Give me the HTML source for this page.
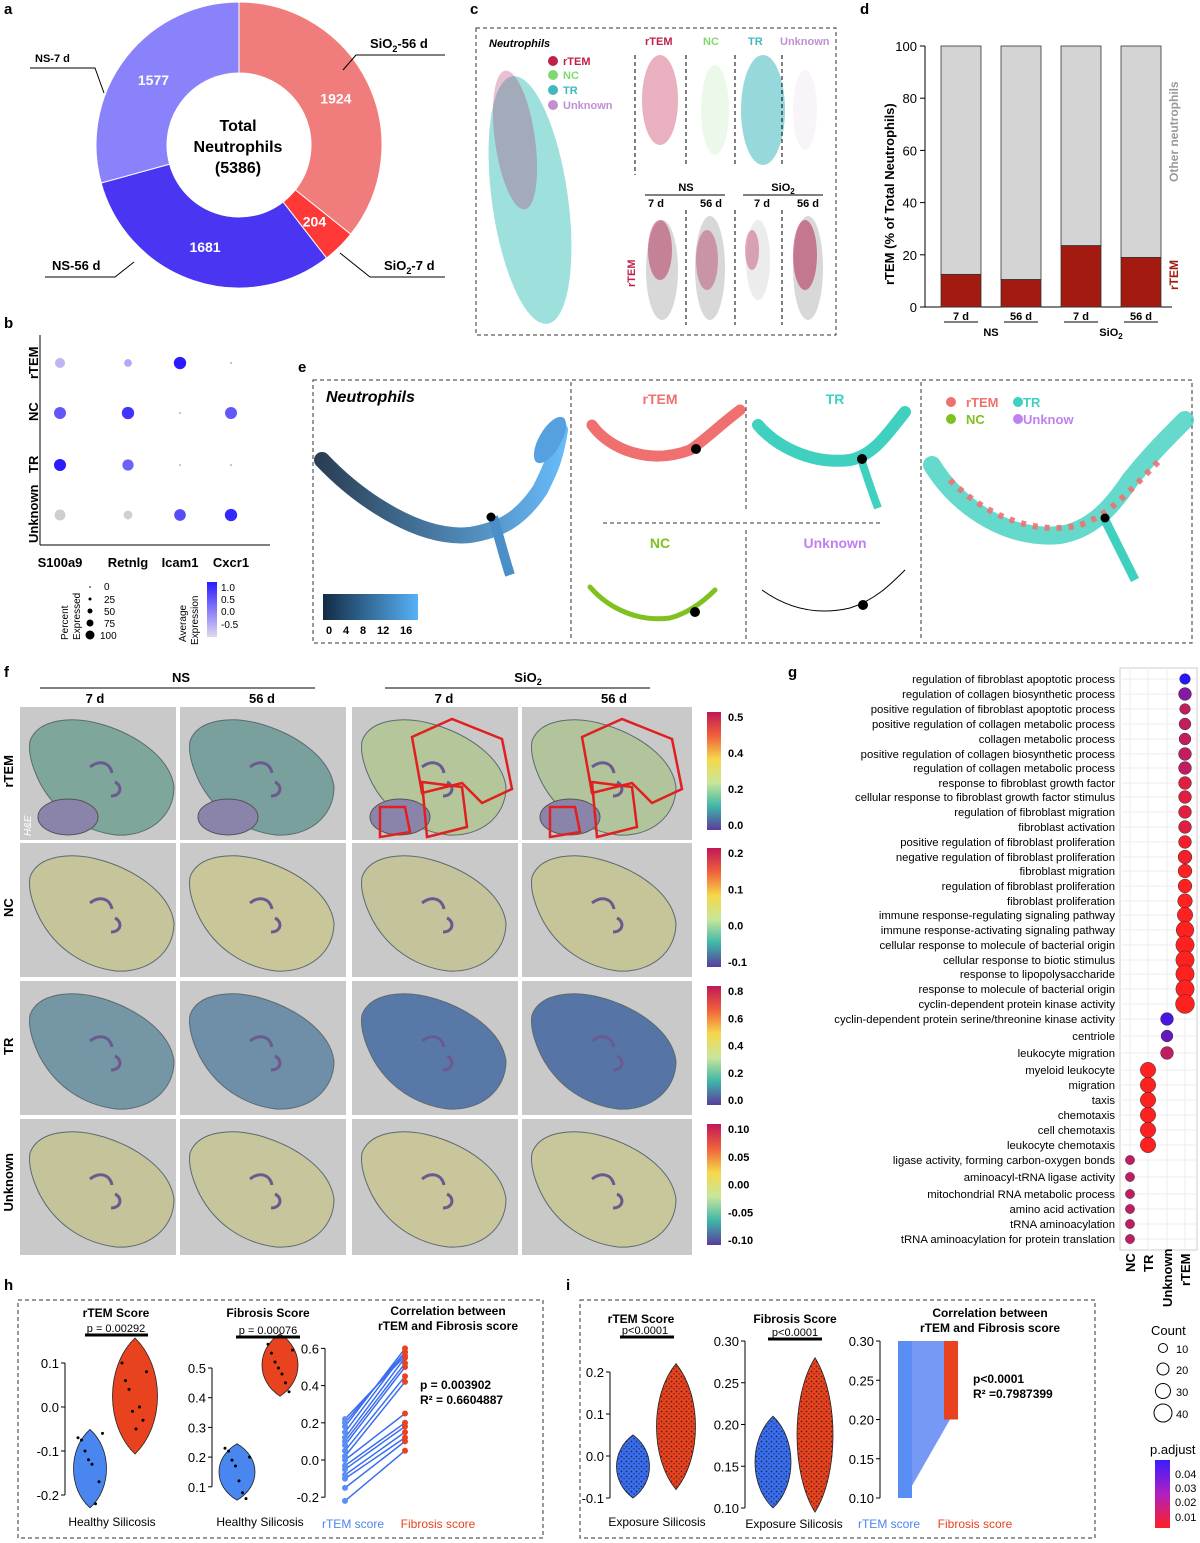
<!DOCTYPE html>
<html><head><meta charset="utf-8"><style>
html,body{margin:0;padding:0;background:#fff;overflow:hidden}
svg{display:block;font-family:"Liberation Sans",Arial,sans-serif}
.b{font-weight:bold}
</style></head><body>
<svg id="fig" width="1200" height="1543" viewBox="0 0 1200 1543" xmlns="http://www.w3.org/2000/svg">
<defs>
<linearGradient id="cbar" x1="0" y1="0" x2="0" y2="1">
<stop offset="0" stop-color="#c0185a"/><stop offset="0.2" stop-color="#f0603a"/><stop offset="0.4" stop-color="#f5d84a"/><stop offset="0.6" stop-color="#c8e69a"/><stop offset="0.8" stop-color="#3eb6a8"/><stop offset="1" stop-color="#5a3c9c"/></linearGradient>
<linearGradient id="tbar" x1="0" x2="1"><stop offset="0" stop-color="#132b43"/><stop offset="1" stop-color="#56b1f7"/></linearGradient>
<linearGradient id="pbar" x1="0" y1="0" x2="0" y2="1"><stop offset="0" stop-color="#3a1cff"/><stop offset="0.5" stop-color="#b020c0"/><stop offset="1" stop-color="#ff2020"/></linearGradient>
<linearGradient id="avg" x1="0" y1="0" x2="0" y2="1"><stop offset="0" stop-color="#2a1cff"/><stop offset="1" stop-color="#e0d8f0"/></linearGradient>
<pattern id="dots" width="5" height="5" patternUnits="userSpaceOnUse"><circle cx="1.5" cy="1.5" r="0.9" fill="#111"/><circle cx="4" cy="3.8" r="0.7" fill="#111"/></pattern>
<path id="lung" d="M6,32 C14,10 48,6 80,16 C112,26 146,48 150,78 C150,108 124,128 92,126 C60,122 32,104 16,74 C8,58 4,44 6,32 Z"/>
</defs>

<g class="b" font-size="15">
<text x="4" y="14">a</text><text x="4" y="328">b</text><text x="470" y="14">c</text><text x="860" y="14">d</text>
<text x="298" y="372">e</text><text x="4" y="677">f</text><text x="788" y="677">g</text><text x="4" y="1290">h</text><text x="566" y="1290">i</text>
</g>

<g id="donut"></g>
<g font-size="13" class="b">
<text x="238" y="131" text-anchor="middle" font-size="16">Total</text>
<text x="238" y="152" text-anchor="middle" font-size="16">Neutrophils</text>
<text x="238" y="173" text-anchor="middle" font-size="16">(5386)</text>
<text x="370" y="48">SiO<tspan font-size="9" dy="4">2</tspan><tspan dy="-4">-56 d</tspan></text>
<text x="384" y="270">SiO<tspan font-size="9" dy="4">2</tspan><tspan dy="-4">-7 d</tspan></text>
<text x="35" y="62" font-size="11">NS-7 d</text>
<text x="52" y="270">NS-56 d</text>
</g>
<g stroke="#000" fill="none">
<polyline points="356,55 445,55"/><polyline points="356,55 343,70"/>
<polyline points="30,68 95,68 104,93"/><polyline points="340,253 370,277 445,277"/><polyline points="45,277 115,277 134,262"/>
</g>

<g id="dotb">
<line x1="40" y1="335" x2="40" y2="545" stroke="#000"/><line x1="40" y1="545" x2="270" y2="545" stroke="#000"/>
</g>
<g font-size="8">
<text transform="translate(68,640) rotate(-90)" font-size="10">Percent</text><text transform="translate(80,640) rotate(-90)" font-size="10">Expressed</text>
<circle cx="90" cy="587" r="0.8"/><text x="104" y="590" font-size="10">0</text>
<circle cx="90" cy="599" r="1.5"/><text x="104" y="603" font-size="10">25</text>
<circle cx="90" cy="611" r="2.5"/><text x="104" y="615" font-size="10">50</text>
<circle cx="90" cy="623" r="3.5"/><text x="104" y="627" font-size="10">75</text>
<circle cx="90" cy="635" r="4.5"/><text x="100" y="639" font-size="10">100</text>
<text transform="translate(186,642) rotate(-90)" font-size="10">Average</text><text transform="translate(198,645) rotate(-90)" font-size="10">Expression</text>
<rect x="207" y="582" width="10" height="55" fill="url(#avg)"/>
<text x="221" y="591" font-size="10">1.0</text><text x="221" y="603" font-size="10">0.5</text><text x="221" y="615" font-size="10">0.0</text><text x="221" y="628" font-size="10">-0.5</text>
</g>

<g>
<rect x="476" y="28" width="360" height="307" fill="none" stroke="#333" stroke-dasharray="4,3"/>
<text x="489" y="47" font-size="11" class="b" font-style="italic">Neutrophils</text>
<ellipse cx="530" cy="200" rx="38" ry="125" fill="#4fc6c0" opacity="0.55" transform="rotate(-8 530 200)"/>
<ellipse cx="515" cy="140" rx="20" ry="70" fill="#b0306a" opacity="0.3" transform="rotate(-8 515 140)"/>
<circle cx="553" cy="61" r="5" fill="#c0204a"/><text x="563" y="65" font-size="11" fill="#c0204a" class="b">rTEM</text>
<circle cx="553" cy="75" r="5" fill="#80d870"/><text x="563" y="79" font-size="11" fill="#80d870" class="b">NC</text>
<circle cx="553" cy="90" r="5" fill="#40b8c0"/><text x="563" y="94" font-size="11" fill="#40b8c0" class="b">TR</text>
<circle cx="553" cy="105" r="5" fill="#c090d0"/><text x="563" y="109" font-size="11" fill="#c090d0" class="b">Unknown</text>
<text x="645" y="45" font-size="11" fill="#c0204a" class="b">rTEM</text><text x="703" y="45" font-size="11" fill="#80d870" class="b">NC</text>
<text x="748" y="45" font-size="11" fill="#40b8c0" class="b">TR</text><text x="780" y="45" font-size="11" fill="#c090d0" class="b">Unknown</text>
<ellipse cx="660" cy="100" rx="18" ry="45" fill="#c0204a" opacity="0.35"/>
<ellipse cx="715" cy="110" rx="14" ry="45" fill="#80d870" opacity="0.15"/>
<ellipse cx="763" cy="110" rx="22" ry="55" fill="#40b8c0" opacity="0.55"/>
<ellipse cx="805" cy="110" rx="12" ry="40" fill="#c090d0" opacity="0.1"/>
<g stroke="#000" stroke-dasharray="4,3"><line x1="635" y1="55" x2="635" y2="175"/><line x1="686" y1="55" x2="686" y2="165"/><line x1="735" y1="55" x2="735" y2="165"/><line x1="782" y1="55" x2="782" y2="165"/>
<line x1="686" y1="210" x2="686" y2="325"/><line x1="735" y1="210" x2="735" y2="325"/><line x1="782" y1="210" x2="782" y2="325"/></g>
<line x1="645" y1="195" x2="725" y2="195" stroke="#000"/><line x1="743" y1="195" x2="823" y2="195" stroke="#000"/>
<text x="686" y="191" font-size="11" class="b" text-anchor="middle">NS</text><text x="783" y="191" font-size="11" class="b" text-anchor="middle">SiO<tspan font-size="8" dy="3">2</tspan></text>
<text x="656" y="207" font-size="11" class="b" text-anchor="middle">7 d</text><text x="711" y="207" font-size="11" class="b" text-anchor="middle">56 d</text>
<text x="762" y="207" font-size="11" class="b" text-anchor="middle">7 d</text><text x="808" y="207" font-size="11" class="b" text-anchor="middle">56 d</text>
<text transform="translate(635,287) rotate(-90)" font-size="11" fill="#c0204a" class="b">rTEM</text>
<ellipse cx="662" cy="270" rx="16" ry="50" fill="#c8c8c8" opacity="0.7"/><ellipse cx="660" cy="250" rx="12" ry="30" fill="#b01848" opacity="0.45"/>
<ellipse cx="710" cy="268" rx="15" ry="52" fill="#c8c8c8" opacity="0.7"/><ellipse cx="707" cy="260" rx="11" ry="30" fill="#b01848" opacity="0.35"/>
<ellipse cx="758" cy="260" rx="12" ry="40" fill="#c8c8c8" opacity="0.35"/><ellipse cx="752" cy="250" rx="7" ry="20" fill="#b01848" opacity="0.35"/>
<ellipse cx="808" cy="268" rx="15" ry="52" fill="#c8c8c8" opacity="0.7"/><ellipse cx="805" cy="255" rx="12" ry="35" fill="#b01848" opacity="0.5"/>
</g>

<g id="barsd"></g>

<g>
<rect x="313" y="380" width="879" height="263" fill="none" stroke="#333" stroke-dasharray="4,3"/>
<g stroke="#333" stroke-dasharray="4,3"><line x1="571" y1="382" x2="571" y2="641"/><line x1="921" y1="382" x2="921" y2="641"/><line x1="746" y1="400" x2="746" y2="510"/><line x1="746" y1="530" x2="746" y2="641"/><line x1="603" y1="523" x2="882" y2="523"/></g>
<text x="326" y="402" font-size="16" class="b" font-style="italic">Neutrophils</text>
<path d="M322,460 C360,500 420,540 470,535 C500,530 520,520 540,490 C550,470 555,460 560,430" stroke="url(#tbar)" stroke-width="16" fill="none" stroke-linecap="round" opacity="0.9"/>
<path d="M493,517 C500,540 505,560 510,575" stroke="#4a8fc8" stroke-width="10" fill="none"/>
<ellipse cx="550" cy="440" rx="11" ry="26" fill="#56a0e0" transform="rotate(30 550 440)"/>
<circle cx="491" cy="517" r="4.5" fill="#000"/>
<rect x="323" y="594" width="95" height="26" fill="url(#tbar)"/>
<text x="326" y="634" font-size="11" class="b">0</text><text x="343" y="634" font-size="11" class="b">4</text><text x="360" y="634" font-size="11" class="b">8</text><text x="377" y="634" font-size="11" class="b">12</text><text x="400" y="634" font-size="11" class="b">16</text>
<text x="660" y="404" font-size="14" class="b" fill="#f07070" text-anchor="middle">rTEM</text>
<path d="M592,425 C610,450 650,465 690,450 C705,440 720,425 740,410" stroke="#f07070" stroke-width="11" fill="none" stroke-linecap="round"/>
<circle cx="696" cy="449" r="5" fill="#000"/>
<text x="835" y="404" font-size="14" class="b" fill="#40d0c0" text-anchor="middle">TR</text>
<path d="M758,425 C775,445 810,465 850,460 C875,455 890,430 905,412" stroke="#40d0c0" stroke-width="12" fill="none" stroke-linecap="round"/>
<path d="M862,462 C868,480 873,495 878,508" stroke="#40d0c0" stroke-width="8" fill="none"/>
<circle cx="862" cy="459" r="5" fill="#000"/>
<text x="660" y="548" font-size="14" class="b" fill="#80c020" text-anchor="middle">NC</text>
<path d="M590,587 C610,610 640,622 670,618 C685,614 700,605 715,590" stroke="#80c020" stroke-width="5" fill="none" stroke-linecap="round"/>
<circle cx="695" cy="612" r="5" fill="#000"/>
<text x="835" y="548" font-size="14" class="b" fill="#c080f0" text-anchor="middle">Unknown</text>
<path d="M762,590 C790,610 820,615 850,608 C875,600 890,585 905,570" stroke="#000" stroke-width="1" fill="none"/>
<circle cx="863" cy="605" r="5" fill="#000"/>
<path d="M932,465 C960,510 1010,540 1060,535 C1090,530 1110,510 1130,480 C1150,455 1165,440 1185,420" stroke="#40d0c0" stroke-width="18" fill="none" stroke-linecap="round" opacity="0.8"/>
<path d="M1105,520 C1115,540 1125,560 1135,580" stroke="#40d0c0" stroke-width="9" fill="none"/>
<path d="M950,480 C990,520 1040,535 1080,525 C1110,515 1130,490 1160,460" stroke="#f07070" stroke-width="6" fill="none" stroke-dasharray="5,7" opacity="0.9"/>
<circle cx="1105" cy="518" r="4.5" fill="#000"/>
<circle cx="951" cy="402" r="5" fill="#f07070"/><text x="966" y="407" font-size="13" class="b" fill="#f07070">rTEM</text>
<circle cx="1018" cy="402" r="5" fill="#40d0c0"/><text x="1023" y="407" font-size="13" class="b" fill="#40d0c0">TR</text>
<circle cx="951" cy="419" r="5" fill="#80c020"/><text x="966" y="424" font-size="13" class="b" fill="#80c020">NC</text>
<circle cx="1018" cy="419" r="5" fill="#c080f0"/><text x="1023" y="424" font-size="13" class="b" fill="#c080f0">Unknow</text>
</g>

<g id="panelf">
<text x="181" y="682" font-size="13" class="b" text-anchor="middle">NS</text>
<text x="528" y="682" font-size="13" class="b" text-anchor="middle">SiO<tspan font-size="9" dy="3">2</tspan></text>
<line x1="40" y1="688" x2="315" y2="688" stroke="#000"/><line x1="385" y1="688" x2="650" y2="688" stroke="#000"/>
<text x="95" y="703" font-size="13" class="b" text-anchor="middle">7 d</text><text x="262" y="703" font-size="13" class="b" text-anchor="middle">56 d</text>
<text x="444" y="703" font-size="13" class="b" text-anchor="middle">7 d</text><text x="614" y="703" font-size="13" class="b" text-anchor="middle">56 d</text>
</g>

<g id="panelg">
<rect x="1120" y="668" width="77" height="582" fill="#fff" stroke="#ccc"/>
</g>
<g font-size="13">
<text x="1151" y="1335">Count</text>
<circle cx="1163" cy="1348" r="4.5" fill="none" stroke="#000"/><text x="1176" y="1353" font-size="11">10</text>
<circle cx="1163" cy="1369" r="6" fill="none" stroke="#000"/><text x="1176" y="1374" font-size="11">20</text>
<circle cx="1163" cy="1391" r="7.5" fill="none" stroke="#000"/><text x="1176" y="1396" font-size="11">30</text>
<circle cx="1163" cy="1413" r="9" fill="none" stroke="#000"/><text x="1176" y="1418" font-size="11">40</text>
<text x="1150" y="1454">p.adjust</text>
<rect x="1155" y="1460" width="15" height="68" fill="url(#pbar)"/>
<text x="1175" y="1478" font-size="11">0.04</text><text x="1175" y="1492" font-size="11">0.03</text><text x="1175" y="1506" font-size="11">0.02</text><text x="1175" y="1521" font-size="11">0.01</text>
</g>

<g id="panelh">
<rect x="18" y="1300" width="525" height="238" fill="none" stroke="#333" stroke-dasharray="4,3"/>
</g>
<g id="paneli">
<rect x="580" y="1300" width="515" height="238" fill="none" stroke="#333" stroke-dasharray="4,3"/>
</g>
</svg>

<script>
const NS='http://www.w3.org/2000/svg';
function el(tag,attrs,parent,txt){const e=document.createElementNS(NS,tag);for(const k in attrs)e.setAttribute(k,attrs[k]);if(txt!==undefined)e.textContent=txt;parent.appendChild(e);return e;}

const donutLabels=['SiO2-56 d','SiO2-7 d','NS-56 d','NS-7 d'];
const donutValues=[1924,204,1681,1577];
const donutColors=['#f07c7c','#ff3838','#4a36f2','#8a82fa'];
(function(){
 const g=document.getElementById('donut');const cx=239,cy=145,R=143,r=72;
 const tot=donutValues.reduce((a,b)=>a+b,0);let a0=-Math.PI/2;
 donutValues.forEach((v,i)=>{const a1=a0+v/tot*2*Math.PI;const lg=(a1-a0)>Math.PI?1:0;
  const p=[cx+R*Math.cos(a0),cy+R*Math.sin(a0),cx+R*Math.cos(a1),cy+R*Math.sin(a1),cx+r*Math.cos(a1),cy+r*Math.sin(a1),cx+r*Math.cos(a0),cy+r*Math.sin(a0)];
  const s=el('path',{d:`M${p[0]},${p[1]}A${R},${R} 0 ${lg} 1 ${p[2]},${p[3]}L${p[4]},${p[5]}A${r},${r} 0 ${lg} 0 ${p[6]},${p[7]}Z`,fill:donutColors[i],stroke:'#fff','stroke-width':1},g);
  
  
  const am=(a0+a1)/2,rr=(R+r)/2;
  const t=el('text',{x:cx+rr*Math.cos(am),y:cy+rr*Math.sin(am)+5,'text-anchor':'middle',fill:'#fff','font-size':14,'font-weight':'bold'},g,String(v));
  
  
  a0=a1;});
})();

const bGenes=['S100a9','Retnlg','Icam1','Cxcr1'];
const bTypes=['rTEM','NC','TR','Unknown'];
const bPct=[[60,35,90,2],[85,90,2,85],[85,75,2,2],[70,45,80,90]];
const bExp=[[-0.3,-0.2,1.0,0],[0.5,0.8,0,0.5],[1.0,0.4,0,0],[-1,-1,0.6,0.9]];
(function(){
 const g=document.getElementById('dotb');const xs=[60,128,180,231],ys=[363,413,465,515];
 function col(v){if(v<=-0.9)return '#cfcfcf';const t=(v+0.6)/1.6;const c1=[224,216,240],c2=[42,28,255];return `rgb(${c1.map((c,i)=>Math.round(c+(c2[i]-c)*Math.max(0,Math.min(1,t)))).join(',')})`;}
 bTypes.forEach((ty,j)=>{const t=el('text',{transform:`translate(38,${ys[j]+ty.length*4}) rotate(-90)`,'font-size':13,'font-weight':'bold'},g,ty);
  
  bGenes.forEach((ge,i)=>{const c=el('circle',{cx:xs[i],cy:ys[j],r:Math.max(0.4,Math.sqrt(bPct[j][i]/100)*6.5),fill:col(bExp[j][i])},g);
   });});
 bGenes.forEach((ge,i)=>{const t=el('text',{x:xs[i],y:567,'text-anchor':'middle','font-size':13,'font-weight':'bold'},g,ge);
  });
})();

const dGroups=['7 d','56 d','7 d','56 d'];
const dRtem=[12.5,10.5,23.5,19];
const dTicks=[0,20,40,60,80,100];
(function(){
 const g=document.getElementById('barsd');const y0=307,y1=46;const yv=v=>y0-(y0-y1)*v/100;const xs=[941,1001,1061,1121],w=40;
 el('line',{x1:925,y1:y1,x2:925,y2:y0,stroke:'#000'},g);el('line',{x1:925,y1:y0,x2:1172,y2:y0,stroke:'#000'},g);
 dTicks.forEach(t=>{el('line',{x1:920,y1:yv(t),x2:925,y2:yv(t),stroke:'#000'},g);const tt=el('text',{x:917,y:yv(t)+5,'text-anchor':'end','font-size':13},g,t);
  });
 dRtem.forEach((v,i)=>{const o=el('rect',{x:xs[i],y:yv(100),width:w,height:yv(v)-yv(100),fill:'#d4d4d4',stroke:'#333','stroke-width':0.8},g);
  
  const b=el('rect',{x:xs[i],y:yv(v),width:w,height:y0-yv(v),fill:'#a31a10',stroke:'#333','stroke-width':0.8},g);
  
  el('line',{x1:xs[i]+3,y1:322,x2:xs[i]+w-3,y2:322,stroke:'#000'},g);
  const t=el('text',{x:xs[i]+w/2,y:320,'text-anchor':'middle','font-size':11,'font-weight':'bold'},g,dGroups[i]);
  });
 el('text',{x:991,y:336,'text-anchor':'middle','font-size':11,'font-weight':'bold'},g,'NS');
 const s=el('text',{x:1111,y:336,'text-anchor':'middle','font-size':11,'font-weight':'bold'},g,'SiO');el('tspan',{'font-size':8,dy:3},s,'2');
 el('text',{transform:'translate(894,285) rotate(-90)','font-size':13,'font-weight':'bold'},g,'rTEM (% of Total Neutrophils)');
 el('text',{transform:'translate(1178,182) rotate(-90)','font-size':12,'font-weight':'bold',fill:'#999'},g,'Other neutrophils');
 el('text',{transform:'translate(1178,290) rotate(-90)','font-size':12,'font-weight':'bold',fill:'#a31a10'},g,'rTEM');
})();

const fRows=['rTEM','NC','TR','Unknown'];
const fFill=[['#7fa69b','#7aa09e','#b4c69a','#b2c49c'],['#c6c49a','#c9c69a','#c4c39c','#c6c59a'],['#7596a4','#6f8ea7','#5878a8','#5674a6'],['#c5c39a','#c7c59b','#c8c69a','#c8c69b']];
const fTicks=[['0.5','0.4','0.2','0.0'],['0.2','0.1','0.0','-0.1'],['0.8','0.6','0.4','0.2','0.0'],['0.10','0.05','0.00','-0.05','-0.10']];
(function(){
 const g=document.getElementById('panelf');const xs=[20,180,352,522],ws=[156,166,166,170],ys=[707,843,981,1119],hs=[133,134,134,136];
 fRows.forEach((r,j)=>{const t=el('text',{transform:`translate(13,${ys[j]+hs[j]/2+r.length*3.5}) rotate(-90)`,'font-size':13,'font-weight':'bold'},g,r);
  
  xs.forEach((x,i)=>{const c=el('rect',{x:x,y:ys[j],width:ws[i],height:hs[j],fill:'#c9c9c9'},g);
   
   el('use',{href:'#lung',transform:`translate(${x+4},${ys[j]+2})`,fill:fFill[j][i],stroke:'#5a6a70','stroke-width':1},g);
   el('path',{d:`M${x+70},${ys[j]+60} c10,-8 20,-4 22,6 M${x+95},${ys[j]+75} c8,4 6,14 -4,14`,stroke:'#6a5a90','stroke-width':3,fill:'none'},g);
   if(j===0){el('ellipse',{cx:x+48,cy:ys[j]+110,rx:30,ry:18,fill:'#8a84aa',stroke:'#555'},g);}
   if(j===0&&i>=2){el('path',{d:`M${x+60},${ys[j]+30} l40,-18 l50,20 l10,50 l-30,14 l-20,-20 l-40,10 Z M${x+70},${ys[j]+75} l40,5 l5,40 l-40,10 Z M${x+28},${ys[j]+100} l25,0 l5,25 l-30,5 Z`,fill:'none',stroke:'#e02020','stroke-width':2.5},g);}
  });
  el('rect',{x:707,y:ys[j]+5,width:14,height:hs[j]-15,fill:'url(#cbar)'},g);
  const tk=fTicks[j];tk.forEach((v,k)=>{const yy=ys[j]+10+k*(hs[j]-25)/(tk.length-1);const tt=el('text',{x:728,y:yy+4,'font-size':11,'font-weight':'bold'},g,v);
   });
 });
 el('text',{transform:'translate(31,836) rotate(-90)','font-size':10,fill:'#fff','font-style':'italic'},g,'H&E');
})();

const gTerms=['regulation of fibroblast apoptotic process','regulation of collagen biosynthetic process','positive regulation of fibroblast apoptotic process','positive regulation of collagen metabolic process','collagen metabolic process','positive regulation of collagen biosynthetic process','regulation of collagen metabolic process','response to fibroblast growth factor','cellular response to fibroblast growth factor stimulus','regulation of fibroblast migration','fibroblast activation','positive regulation of fibroblast proliferation','negative regulation of fibroblast proliferation','fibroblast migration','regulation of fibroblast proliferation','fibroblast proliferation','immune response-regulating signaling pathway','immune response-activating signaling pathway','cellular response to molecule of bacterial origin','cellular response to biotic stimulus','response to lipopolysaccharide','response to molecule of bacterial origin','cyclin-dependent protein kinase activity','cyclin-dependent protein serine/threonine kinase activity','centriole','leukocyte migration','myeloid leukocyte','migration','taxis','chemotaxis','cell chemotaxis','leukocyte chemotaxis','ligase activity, forming carbon-oxygen bonds','aminoacyl-tRNA ligase activity','mitochondrial RNA metabolic process','amino acid activation','tRNA aminoacylation','tRNA aminoacylation for protein translation'];
const gCol=[3,3,3,3,3,3,3,3,3,3,3,3,3,3,3,3,3,3,3,3,3,3,3,2,2,2,1,1,1,1,1,1,0,0,0,0,0,0];
const gCount=[3,5,3,4,4,5,5,5,5,5,5,5,6,6,6,7,8,11,12,12,12,12,13,5,4,5,8,8,8,8,8,8,2,2,2,2,2,2];
const gPadj=[0.045,0.03,0.02,0.02,0.02,0.02,0.02,0.015,0.015,0.015,0.015,0.012,0.012,0.01,0.01,0.01,0.01,0.01,0.01,0.01,0.01,0.01,0.01,0.04,0.035,0.02,0.01,0.01,0.01,0.01,0.01,0.01,0.02,0.02,0.02,0.02,0.02,0.02];
const gCats=['NC','TR','Unknown','rTEM'];
(function(){
 const g=document.getElementById('panelg');const cx=[1130,1148,1167,1185];
 const ys=[679,694,709,724,739,754,768,783,797,812,827,842,857,871,886,901,915,930,945,960,974,989,1004,1019,1036,1053,1070,1085,1100,1115,1130,1145,1160,1177,1194,1209,1224,1239];
 cx.forEach(x=>el('line',{x1:x,y1:668,x2:x,y2:1250,stroke:'#eee'},g));
 ys.forEach(y=>el('line',{x1:1120,y1:y,x2:1197,y2:y,stroke:'#eee'},g));
 function pc(p){const t=Math.max(0,Math.min(1,(p-0.01)/0.035));return `rgb(${Math.round(255-215*t)},${Math.round(32-10*t)},${Math.round(32+223*t)})`;}
 gTerms.forEach((t,i)=>{const tx=el('text',{x:1115,y:ys[i]+4,'text-anchor':'end','font-size':11.3},g,t);
  
  const c=el('circle',{cx:cx[gCol[i]],cy:ys[i],r:1.5+Math.sqrt(gCount[i])*2.2,fill:pc(gPadj[i]),stroke:'#333','stroke-width':0.5},g);
  });
 gCats.forEach((c,i)=>{const t=el('text',{transform:`translate(${cx[i]+5},${1258+c.length*7}) rotate(-90)`,'font-size':13,'font-weight':'bold'},g,c);
  });
})();

const hRtemHealthy=[-0.07,-0.075,-0.10,-0.12,-0.13,-0.22,-0.17,-0.06];
const hRtemSilicosis=[0.10,0.06,0.04,-0.01,-0.05,0.00,-0.03,0.08];
const hFibHealthy=[0.23,0.22,0.19,0.17,0.12,0.08,0.06,0.20];
const hFibSilicosis=[0.58,0.55,0.52,0.50,0.48,0.45,0.42,0.56];
const hCorrRtem=[-0.22,-0.15,-0.1,-0.08,-0.05,-0.03,0.0,0.02,0.05,0.08,0.1,0.12,0.15,0.18,0.2,0.22];
const hCorrFib=[0.05,0.1,0.12,0.15,0.18,0.2,0.25,0.42,0.45,0.5,0.52,0.55,0.58,0.6,0.58,0.56];
const iRtemRange=[[-0.10,0.05],[-0.08,0.22]];
const iFibRange=[[0.10,0.21],[0.095,0.28]];
const iCorrRtemRange=[0.10,0.30];
const iCorrFibRange=[0.20,0.30];

function violin(g,cx,ycenter,h,w,fill,pat){
 const d=`M${cx},${ycenter-h/2} C${cx+w},${ycenter-h/4} ${cx+w},${ycenter+h/4} ${cx},${ycenter+h/2} C${cx-w},${ycenter+h/4} ${cx-w},${ycenter-h/4} ${cx},${ycenter-h/2}Z`;
 el('path',{d:d,fill:fill,stroke:'#222','stroke-width':0.8},g);if(pat)el('path',{d:d,fill:'url(#dots)',opacity:0.7},g);
}
function axis(g,x,ticks,yfn,dec){el('line',{x1:x,y1:yfn(ticks[0]),x2:x,y2:yfn(ticks[ticks.length-1]),stroke:'#000'},g);
 ticks.forEach(t=>{el('line',{x1:x-4,y1:yfn(t),x2:x,y2:yfn(t),stroke:'#000'},g);const tt=el('text',{x:x-6,y:yfn(t)+5,'text-anchor':'end','font-size':13},g,t.toFixed(dec||1));
 });}
function vr(g,cx,yfn,r,w,fill){violin(g,cx,(yfn(r[0])+yfn(r[1]))/2,yfn(r[0])-yfn(r[1]),w,fill,true);}
(function(){
 const g=document.getElementById('panelh');
 const y1=v=>1407-v*440;
 axis(g,65,[-0.2,-0.1,0.0,0.1],y1);
 const rng=a=>Math.max(...a)-Math.min(...a);
 violin(g,90,y1((Math.max(...hRtemHealthy)+Math.min(...hRtemHealthy))/2),rng(hRtemHealthy)*440+8,22,'#4a86f0');
 violin(g,135,y1((Math.max(...hRtemSilicosis)+Math.min(...hRtemSilicosis))/2),rng(hRtemSilicosis)*440+50,30,'#e8421e');
 hRtemHealthy.forEach((v,i)=>el('circle',{cx:78+i*3.5,cy:y1(v),r:1.5},g));hRtemSilicosis.forEach((v,i)=>el('circle',{cx:122+i*3.5,cy:y1(v),r:1.5},g));
 el('text',{x:116,y:1317,'text-anchor':'middle','font-size':12,'font-weight':'bold'},g,'rTEM Score');
 el('text',{x:116,y:1332,'text-anchor':'middle','font-size':11},g,'p = 0.00292');el('line',{x1:85,y1:1335,x2:148,y2:1335,stroke:'#000','stroke-width':3},g);
 el('text',{x:112,y:1526,'text-anchor':'middle','font-size':12},g,'Healthy Silicosis');
 const y2=v=>1368-(v-0.5)*297;
 axis(g,212,[0.1,0.2,0.3,0.4,0.5],y2);
 violin(g,237,y2(0.15),y2(0.05)-y2(0.24),24,'#4a86f0');violin(g,280,y2(0.51),y2(0.40)-y2(0.61),24,'#e8421e');
 hFibHealthy.forEach((v,i)=>el('circle',{cx:225+i*3.5,cy:y2(v),r:1.5},g));hFibSilicosis.forEach((v,i)=>el('circle',{cx:268+i*3.5,cy:y2(v),r:1.5},g));
 el('text',{x:268,y:1317,'text-anchor':'middle','font-size':12,'font-weight':'bold'},g,'Fibrosis Score');
 el('text',{x:268,y:1334,'text-anchor':'middle','font-size':11},g,'p = 0.00076');el('line',{x1:236,y1:1337,x2:300,y2:1337,stroke:'#000','stroke-width':3},g);
 el('text',{x:260,y:1526,'text-anchor':'middle','font-size':12},g,'Healthy Silicosis');
 const y3=v=>1460-v*186;
 axis(g,325,[-0.2,0.0,0.2,0.4,0.6],y3);
 hCorrRtem.forEach((v,i)=>{el('line',{x1:345,y1:y3(v),x2:405,y2:y3(hCorrFib[i]),stroke:'#3a6ef0','stroke-width':1.5},g);
  const a=el('circle',{cx:345,cy:y3(v),r:3,fill:'#5a8ef5'},g);
  const b=el('circle',{cx:405,cy:y3(hCorrFib[i]),r:3,fill:'#e8421e'},g);});
 el('text',{x:448,y:1315,'text-anchor':'middle','font-size':12,'font-weight':'bold'},g,'Correlation between');
 el('text',{x:448,y:1330,'text-anchor':'middle','font-size':12,'font-weight':'bold'},g,'rTEM and Fibrosis score');
 el('text',{x:420,y:1389,'font-size':12,'font-weight':'bold'},g,'p = 0.003902');el('text',{x:420,y:1404,'font-size':12,'font-weight':'bold'},g,'R² = 0.6604887');
 el('text',{x:353,y:1528,'text-anchor':'middle','font-size':12,fill:'#4a86f0'},g,'rTEM score');el('text',{x:438,y:1528,'text-anchor':'middle','font-size':12,fill:'#e8421e'},g,'Fibrosis score');
})();
(function(){
 const g=document.getElementById('paneli');
 const y1=v=>1456-v*420;
 axis(g,610,[-0.1,0.0,0.1,0.2],y1);
 vr(g,633,y1,iRtemRange[0],22,'#3a6ef0');vr(g,676,y1,iRtemRange[1],26,'#e8421e');
 el('text',{x:641,y:1323,'text-anchor':'middle','font-size':12,'font-weight':'bold'},g,'rTEM Score');el('text',{x:645,y:1334,'text-anchor':'middle','font-size':11},g,'p<0.0001');
 el('line',{x1:620,y1:1337,x2:674,y2:1337,stroke:'#000','stroke-width':3},g);
 el('text',{x:657,y:1526,'text-anchor':'middle','font-size':12},g,'Exposure Silicosis');
 const y2=v=>1341-(v-0.30)*835;
 axis(g,745,[0.10,0.15,0.20,0.25,0.30],y2,2);
 vr(g,773,y2,iFibRange[0],24,'#3a6ef0');vr(g,815,y2,iFibRange[1],24,'#e8421e');
 el('text',{x:795,y:1323,'text-anchor':'middle','font-size':12,'font-weight':'bold'},g,'Fibrosis Score');el('text',{x:795,y:1336,'text-anchor':'middle','font-size':11},g,'p<0.0001');
 el('line',{x1:768,y1:1339,x2:822,y2:1339,stroke:'#000','stroke-width':3},g);
 el('text',{x:794,y:1528,'text-anchor':'middle','font-size':12},g,'Exposure Silicosis');
 const y3=v=>1341-(v-0.30)*785;
 axis(g,880,[0.10,0.15,0.20,0.25,0.30],y3,2);
 el('path',{d:`M905,${y3(iCorrRtemRange[1])} L905,${y3(iCorrRtemRange[0])} L950,${y3(iCorrFibRange[0])} L950,${y3(iCorrFibRange[1])} Z`,fill:'#3a6ef0',opacity:0.7},g);
 el('rect',{x:898,y:y3(iCorrRtemRange[1]),width:14,height:y3(iCorrRtemRange[0])-y3(iCorrRtemRange[1]),fill:'#5a8ef5'},g);
 el('rect',{x:944,y:y3(iCorrFibRange[1]),width:14,height:y3(iCorrFibRange[0])-y3(iCorrFibRange[1]),fill:'#e8421e'},g);
 el('text',{x:990,y:1317,'text-anchor':'middle','font-size':12,'font-weight':'bold'},g,'Correlation between');
 el('text',{x:990,y:1332,'text-anchor':'middle','font-size':12,'font-weight':'bold'},g,'rTEM and Fibrosis score');
 el('text',{x:973,y:1383,'font-size':12,'font-weight':'bold'},g,'p<0.0001');el('text',{x:973,y:1398,'font-size':12,'font-weight':'bold'},g,'R² =0.7987399');
 el('text',{x:889,y:1528,'text-anchor':'middle','font-size':12,fill:'#4a86f0'},g,'rTEM score');el('text',{x:975,y:1528,'text-anchor':'middle','font-size':12,fill:'#e8421e'},g,'Fibrosis score');
})();
</script>
</body></html>
